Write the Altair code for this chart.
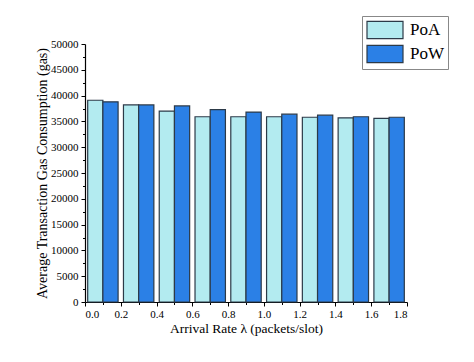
import altair as alt
import pandas as pd

arrival_rate = [0.1, 0.3, 0.5, 0.7, 0.9, 1.1, 1.3, 1.5, 1.7]
poa_gas = [39100, 38200, 37000, 35900, 35900, 35900, 35800, 35700, 35600]
pow_gas = [38800, 38200, 38000, 37300, 36800, 36400, 36200, 35900, 35800]
series = ["PoA", "PoW"]
colors = ["#b3ebf0", "#2b80e6"]

rows = []
for lam, a, w in zip(arrival_rate, poa_gas, pow_gas):
    rows.append({"lam": lam, "gas": a, "Protocol": "PoA", "side": -1})
    rows.append({"lam": lam, "gas": w, "Protocol": "PoW", "side": 0})
df = pd.DataFrame(rows)

minor_df = pd.DataFrame({"v": [0]})

FONT = "Liberation Serif"
BW = 0.085

xscale = alt.Scale(domain=[0, 1.8], nice=False, zero=False)
yscale = alt.Scale(domain=[0, 50000], nice=False)

bars = alt.Chart(df).transform_calculate(
    x0=f"datum.lam + datum.side*{BW}",
    x1=f"datum.lam + (datum.side+1)*{BW}",
).mark_bar(stroke="#2c3a48", strokeWidth=1.2).encode(
    x=alt.X("x0:Q", scale=xscale,
            axis=alt.Axis(values=[0, 0.2, 0.4, 0.6, 0.8, 1.0, 1.2, 1.4, 1.6, 1.8],
                          format=".1f", title="Arrival Rate λ (packets/slot)",
                          grid=False, tickSize=4, labelPadding=2, titlePadding=2,
                          titleFontSize=13.5)),
    x2="x1:Q",
    y=alt.Y("gas:Q", scale=yscale,
            axis=alt.Axis(values=list(range(0, 50001, 5000)), format="d",
                          title="Average Transaction Gas Consumption (gas)",
                          grid=False, tickSize=4, labelPadding=3, titlePadding=1,
                          titleFontSize=14)),
    y2=alt.datum(0),
    color=alt.Color("Protocol:N", scale=alt.Scale(domain=series, range=colors),
                    legend=alt.Legend(title=None, orient="none", legendX=277, legendY=-28,
                                      symbolType="M-1,-0.95H3V0.95H-1Z", symbolSize=324,
                                      symbolStrokeColor="#2c3a48", symbolStrokeWidth=1.2,
                                      symbolOpacity=1, labelOffset=24,
                                      labelFont=FONT, labelFontSize=17, labelColor="black",
                                      strokeColor="#888888", padding=4, rowPadding=2)),
)

minor = alt.Chart(minor_df).mark_point(opacity=0).encode(
    x=alt.X("v:Q", scale=xscale,
            axis=alt.Axis(values=[0.1, 0.3, 0.5, 0.7, 0.9, 1.1, 1.3, 1.5, 1.7],
                          labels=False, domain=False, grid=False, tickSize=2.5, title=None,
                          orient="bottom")),
    y=alt.Y("v:Q", scale=yscale,
            axis=alt.Axis(values=list(range(2500, 50000, 5000)),
                          labels=False, domain=False, grid=False, tickSize=2.5, title=None,
                          orient="left")),
)

chart = alt.layer(bars, minor).resolve_axis(x="independent", y="independent").properties(
    width=322, height=258,
    autosize=alt.AutoSizeParams(type="none"),
    padding={"left": 77, "top": 36, "right": 50, "bottom": 50},
).configure_view(stroke=None).configure_axis(
    labelFont=FONT, titleFont=FONT, labelFontSize=11,
    labelColor="black", titleColor="black", titleFontWeight="normal",
    domainColor="black", tickColor="black", domainWidth=1.2, tickWidth=1,
)

chart.save("out.html", embed_options={"renderer": "svg", "actions": False})
